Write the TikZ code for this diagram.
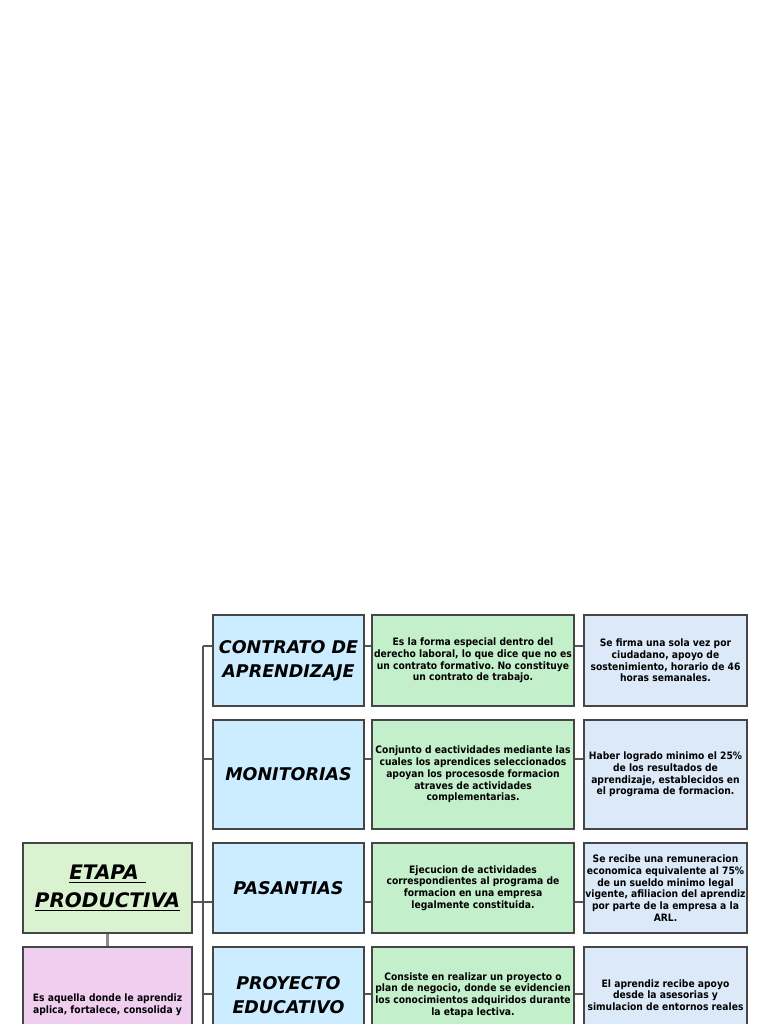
\documentclass[tikz,border=0pt]{standalone}
\usepackage{fontspec}
\setmainfont{DejaVu Sans}
\newfontfamily\smallfont[FakeStretch=0.9]{DejaVu Sans}
\newcommand\thickul[1]{\setbox0\hbox{#1}\rlap{\vrule height -2pt depth 3.6pt width \wd0}\box0}
\frenchspacing

\definecolor{boxline}{RGB}{70,70,70}
\definecolor{linegray}{RGB}{85,85,85}
\definecolor{stemgray}{RGB}{140,140,140}
\definecolor{headblue}{RGB}{204,236,255}
\definecolor{infogreen}{RGB}{196,239,203}
\definecolor{noteblue}{RGB}{220,233,248}
\definecolor{etapagreen}{RGB}{218,242,208}
\definecolor{etapapink}{RGB}{240,206,240}

\begin{document}
\begin{tikzpicture}[x=1pt,y=-1pt]
	\useasboundingbox (0,0) rectangle (768,1024);
	\clip (0,0) rectangle (768,1024);

	\tikzstyle{box} = [draw=boxline,line width=1.5pt,inner sep=0.5pt,align=center]
	\tikzstyle{head} = [box,fill=headblue,minimum width=151pt,font=\fontsize{17.5}{24}\selectfont\bfseries\itshape]
	\tikzstyle{info} = [box,fill=infogreen,minimum width=202pt,font=\smallfont\fontsize{10.2}{11.7}\selectfont\bfseries]
	\tikzstyle{note} = [box,fill=noteblue,minimum width=163pt,font=\smallfont\fontsize{10.2}{11.7}\selectfont\bfseries]
	\tikzstyle{link} = [draw=linegray,line width=1.3pt]

	% left column
	\node [box,fill=etapagreen,minimum width=169pt,minimum height=90pt,font=\fontsize{20}{28}\selectfont\bfseries\itshape]
		(etapa) at (107.5,888) {\thickul{ETAPA\ }\\\thickul{PRODUCTIVA}};
	\node [box,fill=etapapink,minimum width=169pt,minimum height=116pt,font=\smallfont\fontsize{10.2}{11.7}\selectfont\bfseries]
		(def) at (107.5,1005) {Es aquella donde le aprendiz\\aplica, fortalece, consolida y};
	\draw[draw=stemgray,line width=3pt] (etapa.south) -- (def.north);

	% rows
	\node [head,minimum height=91pt] (b1) at (288.5,660.5) {CONTRATO DE\\APRENDIZAJE};
	\node [head,minimum height=109pt] (b2) at (288.5,774.5) {MONITORIAS};
	\node [head,minimum height=90pt] (b3) at (288.5,888) {PASANTIAS};
	\node [head,minimum height=96pt] (b4) at (288.5,995) {PROYECTO\\EDUCATIVO};

	\node [info,minimum height=91pt] (g1) at (473,660.5) {Es la forma especial dentro del\\derecho laboral, lo que dice que no es\\un contrato formativo. No constituye\\un contrato de trabajo.};
	\node [info,minimum height=109pt] (g2) at (473,774.5) {Conjunto d eactividades mediante las\\cuales los aprendices seleccionados\\apoyan los procesosde formacion\\atraves de actividades\\complementarias.};
	\node [info,minimum height=90pt] (g3) at (473,888) {Ejecucion de actividades\\correspondientes al programa de\\formacion en una empresa\\legalmente constituida.};
	\node [info,minimum height=96pt] (g4) at (473,995) {Consiste en realizar un proyecto o\\plan de negocio, donde se evidencien\\los conocimientos adquiridos durante\\la etapa lectiva.};

	\node [note,minimum height=91pt] (n1) at (665.5,660.5) {Se firma una sola vez por\\ciudadano, apoyo de\\sostenimiento, horario de 46\\horas semanales.};
	\node [note,minimum height=109pt] (n2) at (665.5,774.5) {Haber logrado minimo el 25\%\\de los resultados de\\aprendizaje, establecidos en\\el programa de formacion.};
	\node [note,minimum height=90pt] (n3) at (665.5,888) {Se recibe una remuneracion\\economica equivalente al 75\%\\de un sueldo minimo legal\\vigente, afiliacion del aprendiz\\por parte de la empresa a la\\ARL.};
	\node [note,minimum height=96pt] (n4) at (665.5,995) {El aprendiz recibe apoyo\\desde la asesorias y\\simulacion de entornos reales};

	% connectors
	\coordinate (l1) at (0,646);
	\coordinate (l2) at (0,759);
	\coordinate (l3) at (0,902);
	\coordinate (l4) at (0,994);
	\coordinate (trunk) at (203,646);
	\coordinate (trunkend) at (203,1030);

	\draw[link] (trunk) -- (trunkend);
	\draw[link] (etapa.east |- l3) -- (trunk |- l3);

	\foreach \r in {1,2,3,4} {
		\draw[link] (trunk |- l\r) -- (b\r.west |- l\r);
		\draw[link] (b\r.east |- l\r) -- (g\r.west |- l\r);
		\draw[link] (g\r.east |- l\r) -- (n\r.west |- l\r);
	}

\end{tikzpicture}
\end{document}
